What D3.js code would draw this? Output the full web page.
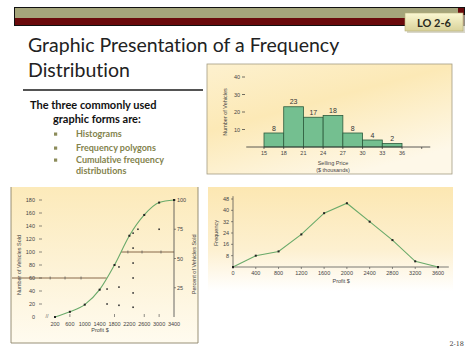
<!DOCTYPE html>
<html>
<head>
<meta charset="utf-8">
<script src="https://cdn.jsdelivr.net/npm/d3@7"></script>
<style>
  body { margin: 0; background: #fff; }
  text { font-family: "Liberation Sans", Arial, sans-serif; font-variant-ligatures: none; }
</style>
</head>
<body>
<script>
/*
  Slide: graphic presentation of a frequency distribution.
  Three small charts: histogram, frequency polygon and ogive.
*/

const width = 474;
const height = 355;

// Histogram: selling price ($ thousands)
const priceEdges = [15, 18, 21, 24, 27, 30, 33, 36];
const vehicleCounts = [8, 23, 17, 18, 8, 4, 2];
const priceTicks = [15, 18, 21, 24, 27, 30, 33, 36];
const priceExtraTick = [39];
const histYTicks = [10, 20, 30, 40];

// Frequency polygon: profit class midpoints
const profitMids = [0, 400, 800, 1200, 1600, 2000, 2400, 2800, 3200, 3600];
const profitFreq = [0, 8, 11, 23, 38, 45, 32, 19, 4, 0];
const freqTicks = [8, 16, 24, 32, 40, 48];

// Ogive: profit class limits and cumulative counts
const profitLimits = [200, 600, 1000, 1400, 1800, 2200, 2600, 3000, 3400];
const cumCounts = [0, 8, 19, 42, 80, 125, 157, 176, 180];
const cumTicks = [0, 20, 40, 60, 80, 100, 120, 140, 160, 180];
const pctTicks = [25, 50, 75, 100];
const refLevels = [60, 100];
const refMarks60 = [70, 470, 900];
const refMarks100 = [2160, 2540, 3050];
const axisMarks = [600, 1800, 2600, 3000];
// stray dots left over in the scanned figure (profit, count)
const strayDots = [
  [1600, 43], [1600, 20], [1920, 77], [1920, 46], [1920, 18],
  [2300, 129], [2300, 106], [2300, 83], [2300, 60], [2300, 37], [2300, 15],
  [2430, 135], [3000, 135]
];

// Slide text
const titleLines = ['Graphic Presentation of a Frequency', 'Distribution'];
const introLines = ['The three commonly used', 'graphic forms are:'];
const bulletLines = [['Histograms'], ['Frequency polygons'], ['Cumulative frequency', 'distributions']];

var svg = d3.select('body').append('svg')
  .attr('width', width)
  .attr('height', height);

var defs = svg.append('defs');

function addGradient(id, x2, y2, stops) {
  var g = defs.append('linearGradient').attr('id', id)
    .attr('x1', 0).attr('y1', 0).attr('x2', x2).attr('y2', y2);
  stops.forEach(function(s) {
    g.append('stop').attr('offset', s[0]).attr('stop-color', s[1]);
  });
}
addGradient('histBg', 0.6, 1, [['0%', '#fdf1cf'], ['45%', '#fce9b6'], ['100%', '#fef8e8']]);
addGradient('polyBg', 0, 1, [['0%', '#fce7b2'], ['60%', '#fdf0d0'], ['100%', '#ffffff']]);
addGradient('ogiveBg', 0, 1, [['0%', '#fceaba'], ['55%', '#fdf3d8'], ['100%', '#fffbef']]);
addGradient('loBg', 0, 1, [['0%', '#fbf8d2'], ['100%', '#d9d29a']]);

// ---------- header bar ----------
svg.append('rect').attr('x', 14).attr('y', 7).attr('width', 451).attr('height', 19)
  .attr('fill', '#111');
svg.append('rect').attr('x', 15).attr('y', 8).attr('width', 443).attr('height', 10)
  .attr('fill', '#a5a57b');
svg.append('rect').attr('x', 15).attr('y', 18).attr('width', 449).attr('height', 7)
  .attr('fill', '#6a0a0c');
svg.append('rect').attr('x', 458).attr('y', 8).attr('width', 6).attr('height', 10)
  .attr('fill', '#6a0a0c');

// LO box
svg.append('rect').attr('x', 407).attr('y', 15).attr('width', 58).attr('height', 18)
  .attr('fill', '#c9c6b4').attr('opacity', 0.7);
svg.append('rect').attr('x', 405).attr('y', 13).attr('width', 58).attr('height', 18)
  .attr('fill', 'url(#loBg)').attr('stroke', '#b5ae78').attr('stroke-width', 0.6);
svg.append('text').attr('x', 434).attr('y', 26.5)
  .style('font-family', 'Lato, "Open Sans", sans-serif')
  .style('font-size', '11px').style('font-weight', 'bold')
  .style('text-anchor', 'middle').attr('fill', '#2a2a20')
  .text('LO 2-6');

// ---------- title ----------
svg.selectAll('.title').data(titleLines).enter().append('text')
  .attr('class', 'title')
  .attr('x', 28).attr('y', function(d, i) { return 52 + i * 25; })
  .style('font-family', 'Lato, "Open Sans", sans-serif')
  .style('font-size', '19.5px').attr('fill', '#222')
  .text(function(d) { return d; });

svg.append('line').attr('x1', 23).attr('x2', 203).attr('y1', 90).attr('y2', 90)
  .attr('stroke', '#1a1a1a').attr('stroke-width', 1.5);

// intro text
svg.selectAll('.intro').data(introLines).enter().append('text')
  .attr('class', 'intro')
  .attr('x', function(d, i) { return i === 0 ? 30 : 53; })
  .attr('y', function(d, i) { return 109 + i * 14; })
  .style('font-family', 'Lato, "Open Sans", sans-serif')
  .style('font-size', '11px').style('font-weight', 'bold').attr('fill', '#111')
  .text(function(d) { return d; });

// bullets
var bulletY = [137, 151, 163];
bulletLines.forEach(function(lines, i) {
  svg.append('rect').attr('x', 54).attr('y', bulletY[i] - 4.5).attr('width', 3.2).attr('height', 3.2)
    .attr('fill', '#8c8c5a');
  lines.forEach(function(l, j) {
    svg.append('text').attr('x', 76).attr('y', bulletY[i] + j * 10.5)
      .style('font-family', 'Lato, "Open Sans", sans-serif')
      .style('font-size', '9px').style('font-weight', 'bold').attr('fill', '#83834c')
      .text(l);
  });
});

// ---------- histogram ----------
svg.append('rect').attr('x', 207).attr('y', 64).attr('width', 245).attr('height', 110)
  .attr('fill', 'url(#histBg)').attr('stroke', '#a39c82').attr('stroke-width', 0.8);

var hx = d3.scaleLinear().domain([15, 36]).range([264, 402]);
var hy = d3.scaleLinear().domain([0, 40]).range([147, 77]);
var histBars = vehicleCounts.map(function(c, i) {
  return { x0: priceEdges[i], x1: priceEdges[i + 1], count: c };
});

var hist = svg.append('g');
hist.selectAll('.bar').data(histBars).enter().append('rect')
  .attr('x', function(d) { return hx(d.x0); })
  .attr('y', function(d) { return hy(d.count); })
  .attr('width', function(d) { return hx(d.x1) - hx(d.x0); })
  .attr('height', function(d) { return hy(0) - hy(d.count); })
  .attr('fill', '#74bf90').attr('stroke', '#2c5a3c').attr('stroke-width', 0.8);

hist.selectAll('.blab').data(histBars).enter().append('text')
  .attr('x', function(d) { return (hx(d.x0) + hx(d.x1)) / 2; })
  .attr('y', function(d) { return hy(d.count) - 2.5; })
  .style('font-size', '7px').style('text-anchor', 'middle').attr('fill', '#333')
  .text(function(d) { return d.count; });

hist.append('line').attr('x1', hx(12.3)).attr('x2', hx(40.3))
  .attr('y1', hy(0)).attr('y2', hy(0)).attr('stroke', '#333').attr('stroke-width', 0.8);

hist.selectAll('.hxt').data(priceTicks.concat(priceExtraTick)).enter().append('line')
  .attr('x1', function(d) { return hx(d); }).attr('x2', function(d) { return hx(d); })
  .attr('y1', hy(0)).attr('y2', hy(0) + 2).attr('stroke', '#333').attr('stroke-width', 0.7);

hist.selectAll('.hxl').data(priceTicks).enter().append('text')
  .attr('x', function(d) { return hx(d); }).attr('y', hy(0) + 8)
  .style('font-size', '5.5px').style('text-anchor', 'middle').attr('fill', '#444')
  .text(function(d) { return d; });

hist.selectAll('.hyt').data(histYTicks).enter().append('line')
  .attr('x1', 242).attr('x2', 245)
  .attr('y1', function(d) { return hy(d); }).attr('y2', function(d) { return hy(d); })
  .attr('stroke', '#333').attr('stroke-width', 0.7);

hist.selectAll('.hyl').data(histYTicks).enter().append('text')
  .attr('x', 240).attr('y', function(d) { return hy(d) + 2; })
  .style('font-size', '5.5px').style('text-anchor', 'end').attr('fill', '#444')
  .text(function(d) { return d; });

hist.append('text')
  .attr('transform', 'translate(227,' + hy(20) + ') rotate(-90)')
  .style('font-size', '5.5px').style('text-anchor', 'middle').attr('fill', '#444')
  .text('Number of Vehicles');
hist.append('text').attr('x', 333).attr('y', 165)
  .style('font-size', '5.5px').style('text-anchor', 'middle').attr('fill', '#444')
  .text('Selling Price');
hist.append('text').attr('x', 333).attr('y', 171.5)
  .style('font-size', '5.5px').style('text-anchor', 'middle').attr('fill', '#444')
  .text('($ thousands)');

// ---------- frequency polygon ----------
svg.append('rect').attr('x', 208).attr('y', 187).attr('width', 245).attr('height', 104)
  .attr('fill', 'url(#polyBg)');

var px = d3.scaleLinear().domain([0, 3600]).range([233, 438]);
var py = d3.scaleLinear().domain([0, 48]).range([267, 199]);
var poly = svg.append('g');

poly.append('line').attr('x1', px(0)).attr('x2', px(3790))
  .attr('y1', py(0)).attr('y2', py(0)).attr('stroke', '#444').attr('stroke-width', 0.7);
poly.append('line').attr('x1', px(0)).attr('x2', px(0))
  .attr('y1', py(0)).attr('y2', py(50)).attr('stroke', '#444').attr('stroke-width', 0.7);

poly.selectAll('.pxt').data(profitMids).enter().append('line')
  .attr('x1', function(d) { return px(d); }).attr('x2', function(d) { return px(d); })
  .attr('y1', py(0)).attr('y2', py(0) + 2).attr('stroke', '#444').attr('stroke-width', 0.6);
poly.selectAll('.pxl').data(profitMids).enter().append('text')
  .attr('x', function(d) { return px(d); }).attr('y', py(0) + 8)
  .style('font-size', '5.5px').style('text-anchor', 'middle').attr('fill', '#444')
  .text(function(d) { return d; });

poly.selectAll('.pyt').data(freqTicks).enter().append('line')
  .attr('x1', px(0) - 2).attr('x2', px(0))
  .attr('y1', function(d) { return py(d); }).attr('y2', function(d) { return py(d); })
  .attr('stroke', '#444').attr('stroke-width', 0.6);
poly.selectAll('.pyl').data(freqTicks).enter().append('text')
  .attr('x', px(0) - 4).attr('y', function(d) { return py(d) + 2; })
  .style('font-size', '5.5px').style('text-anchor', 'end').attr('fill', '#444')
  .text(function(d) { return d; });

poly.append('text')
  .attr('transform', 'translate(218,' + py(24) + ') rotate(-90)')
  .style('font-size', '5.5px').style('text-anchor', 'middle').attr('fill', '#444')
  .text('Frequency');
poly.append('text').attr('x', px(1900)).attr('y', 283)
  .style('font-size', '5.5px').style('text-anchor', 'middle').attr('fill', '#444')
  .text('Profit $');

var polyPts = profitMids.map(function(m, i) { return [m, profitFreq[i]]; });
poly.append('path').datum(polyPts)
  .attr('d', d3.line().x(function(d) { return px(d[0]); }).y(function(d) { return py(d[1]); }))
  .attr('fill', 'none').attr('stroke', '#6aaa6a').attr('stroke-width', 1.1);
poly.selectAll('.pp').data(polyPts).enter().append('rect')
  .attr('x', function(d) { return px(d[0]) - 1; }).attr('y', function(d) { return py(d[1]) - 1; })
  .attr('width', 2).attr('height', 2).attr('fill', '#222');

// ---------- ogive ----------
svg.append('rect').attr('x', 11).attr('y', 187).attr('width', 187).attr('height', 156)
  .attr('fill', 'url(#ogiveBg)');
svg.append('path').attr('d', 'M11,187V343H198V187')
  .attr('fill', 'none').attr('stroke', '#8c856a').attr('stroke-width', 0.9);

var ox = d3.scaleLinear().domain([200, 3400]).range([55, 174]);
var oy = d3.scaleLinear().domain([0, 180]).range([317, 200]);
var opct = d3.scaleLinear().domain([0, 100]).range([317, 200]);
var ogive = svg.append('g');

// where the cumulative line crosses a count level
function crossAt(level) {
  for (var i = 1; i < cumCounts.length; i++) {
    if (cumCounts[i] >= level) {
      var t = (level - cumCounts[i - 1]) / (cumCounts[i] - cumCounts[i - 1]);
      return profitLimits[i - 1] + t * (profitLimits[i] - profitLimits[i - 1]);
    }
  }
  return profitLimits[profitLimits.length - 1];
}

// reference lines
ogive.append('line').attr('x1', 12).attr('x2', ox(crossAt(refLevels[0])))
  .attr('y1', oy(refLevels[0])).attr('y2', oy(refLevels[0]))
  .attr('stroke', '#7a5a3a').attr('stroke-width', 0.9);
ogive.append('line').attr('x1', ox(crossAt(refLevels[1]))).attr('x2', ox(3400))
  .attr('y1', oy(refLevels[1])).attr('y2', oy(refLevels[1]))
  .attr('stroke', '#7a5a3a').attr('stroke-width', 0.9);
ogive.selectAll('.rm60').data(refMarks60).enter().append('line')
  .attr('x1', function(d) { return ox(d); }).attr('x2', function(d) { return ox(d); })
  .attr('y1', oy(60) - 1.5).attr('y2', oy(60) + 1.5).attr('stroke', '#555').attr('stroke-width', 0.7);
ogive.selectAll('.rm100').data(refMarks100).enter().append('line')
  .attr('x1', function(d) { return ox(d); }).attr('x2', function(d) { return ox(d); })
  .attr('y1', oy(100) - 1.5).attr('y2', oy(100) + 1.5).attr('stroke', '#555').attr('stroke-width', 0.7);

// right axis
ogive.append('line').attr('x1', ox(3400)).attr('x2', ox(3400))
  .attr('y1', oy(180)).attr('y2', oy(0)).attr('stroke', '#444').attr('stroke-width', 0.8);
ogive.selectAll('.rt').data(pctTicks).enter().append('line')
  .attr('x1', ox(3400)).attr('x2', ox(3400) + 2)
  .attr('y1', function(d) { return opct(d); }).attr('y2', function(d) { return opct(d); })
  .attr('stroke', '#444').attr('stroke-width', 0.6);
ogive.selectAll('.rl').data(pctTicks).enter().append('text')
  .attr('x', ox(3400) + 3).attr('y', function(d) { return opct(d) + 2; })
  .style('font-size', '5.5px').attr('fill', '#444')
  .text(function(d) { return d; });

// left axis labels
ogive.selectAll('.lt').data(cumTicks.slice(1)).enter().append('line')
  .attr('x1', 39).attr('x2', 42)
  .attr('y1', function(d) { return oy(d); }).attr('y2', function(d) { return oy(d); })
  .attr('stroke', '#444').attr('stroke-width', 0.6);
ogive.selectAll('.ll').data(cumTicks).enter().append('text')
  .attr('x', 35).attr('y', function(d) { return oy(d) + 2; })
  .style('font-size', '5.5px').style('text-anchor', 'end').attr('fill', '#444')
  .text(function(d) { return d; });

// bottom axis
ogive.selectAll('.bm').data(axisMarks).enter().append('line')
  .attr('x1', function(d) { return ox(d); }).attr('x2', function(d) { return ox(d); })
  .attr('y1', oy(0) - 3).attr('y2', oy(0)).attr('stroke', '#444').attr('stroke-width', 0.6);
ogive.append('text').attr('x', 47).attr('y', oy(0) + 1)
  .style('font-size', '5.5px').style('text-anchor', 'middle').attr('fill', '#666')
  .text('//');
ogive.selectAll('.bl').data(profitLimits).enter().append('text')
  .attr('x', function(d) { return ox(d); }).attr('y', oy(0) + 9)
  .style('font-size', '5.5px').style('text-anchor', 'middle').attr('fill', '#444')
  .text(function(d) { return d; });
ogive.append('text').attr('x', 100).attr('y', 332)
  .style('font-size', '5.5px').style('text-anchor', 'middle').attr('fill', '#444')
  .text('Profit $');

ogive.append('text')
  .attr('transform', 'translate(21,' + oy(80) + ') rotate(-90)')
  .style('font-size', '5.5px').style('text-anchor', 'middle').attr('fill', '#444')
  .text('Number of Vehicles Sold');
ogive.append('text')
  .attr('transform', 'translate(196,' + opct(45) + ') rotate(-90)')
  .style('font-size', '5.5px').style('text-anchor', 'middle').attr('fill', '#444')
  .text('Percent of Vehicles Sold');

// stray dots
ogive.selectAll('.sd').data(strayDots).enter().append('rect')
  .attr('x', function(d) { return ox(d[0]) - 0.8; }).attr('y', function(d) { return oy(d[1]) - 0.8; })
  .attr('width', 1.6).attr('height', 1.6).attr('fill', '#333');

// cumulative curve
var ogivePts = profitLimits.map(function(p, i) { return [p, cumCounts[i]]; });
ogive.append('path').datum(ogivePts)
  .attr('d', d3.line().curve(d3.curveMonotoneX)
    .x(function(d) { return ox(d[0]); }).y(function(d) { return oy(d[1]); }))
  .attr('fill', 'none').attr('stroke', '#6aaa6a').attr('stroke-width', 1.1);
ogive.selectAll('.op').data(ogivePts).enter().append('rect')
  .attr('x', function(d) { return ox(d[0]) - 1; }).attr('y', function(d) { return oy(d[1]) - 1; })
  .attr('width', 2).attr('height', 2).attr('fill', '#222');

// page number
svg.append('text').attr('x', 464).attr('y', 346)
  .style('font-family', '"DejaVu Serif", serif')
  .style('font-size', '6.5px').style('text-anchor', 'end').attr('fill', '#333')
  .text('2-18');
</script>
</body>
</html>
